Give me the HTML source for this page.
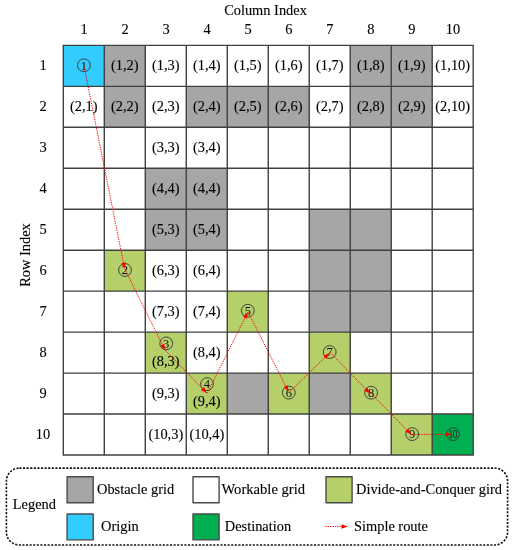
<!DOCTYPE html>
<html><head><meta charset="utf-8"><title>Grid map</title>
<style>html,body{margin:0;padding:0;background:#fff}body{width:512px;height:550px;overflow:hidden}</style></head>
<body>
<svg width="512" height="550" viewBox="0 0 512 550" style="display:block">
<rect width="512" height="550" fill="#fff"/>
<rect x="104.29" y="45.40" width="40.99" height="40.96" fill="#a6a6a6"/>
<rect x="350.23" y="45.40" width="40.99" height="40.96" fill="#a6a6a6"/>
<rect x="391.22" y="45.40" width="40.99" height="40.96" fill="#a6a6a6"/>
<rect x="104.29" y="86.36" width="40.99" height="40.96" fill="#a6a6a6"/>
<rect x="186.27" y="86.36" width="40.99" height="40.96" fill="#a6a6a6"/>
<rect x="227.26" y="86.36" width="40.99" height="40.96" fill="#a6a6a6"/>
<rect x="268.25" y="86.36" width="40.99" height="40.96" fill="#a6a6a6"/>
<rect x="350.23" y="86.36" width="40.99" height="40.96" fill="#a6a6a6"/>
<rect x="391.22" y="86.36" width="40.99" height="40.96" fill="#a6a6a6"/>
<rect x="145.28" y="168.28" width="40.99" height="40.96" fill="#a6a6a6"/>
<rect x="186.27" y="168.28" width="40.99" height="40.96" fill="#a6a6a6"/>
<rect x="145.28" y="209.24" width="40.99" height="40.96" fill="#a6a6a6"/>
<rect x="186.27" y="209.24" width="40.99" height="40.96" fill="#a6a6a6"/>
<rect x="309.24" y="209.24" width="40.99" height="40.96" fill="#a6a6a6"/>
<rect x="350.23" y="209.24" width="40.99" height="40.96" fill="#a6a6a6"/>
<rect x="309.24" y="250.20" width="40.99" height="40.96" fill="#a6a6a6"/>
<rect x="350.23" y="250.20" width="40.99" height="40.96" fill="#a6a6a6"/>
<rect x="309.24" y="291.16" width="40.99" height="40.96" fill="#a6a6a6"/>
<rect x="350.23" y="291.16" width="40.99" height="40.96" fill="#a6a6a6"/>
<rect x="227.26" y="373.08" width="40.99" height="40.96" fill="#a6a6a6"/>
<rect x="309.24" y="373.08" width="40.99" height="40.96" fill="#a6a6a6"/>
<rect x="104.29" y="250.20" width="40.99" height="40.96" fill="#b5cf6b"/>
<rect x="145.28" y="332.12" width="40.99" height="40.96" fill="#b5cf6b"/>
<rect x="186.27" y="373.08" width="40.99" height="40.96" fill="#b5cf6b"/>
<rect x="227.26" y="291.16" width="40.99" height="40.96" fill="#b5cf6b"/>
<rect x="268.25" y="373.08" width="40.99" height="40.96" fill="#b5cf6b"/>
<rect x="309.24" y="332.12" width="40.99" height="40.96" fill="#b5cf6b"/>
<rect x="350.23" y="373.08" width="40.99" height="40.96" fill="#b5cf6b"/>
<rect x="391.22" y="414.04" width="40.99" height="40.96" fill="#b5cf6b"/>
<rect x="63.30" y="45.40" width="40.99" height="40.96" fill="#33ccff"/>
<rect x="432.21" y="414.04" width="40.99" height="40.96" fill="#00b050"/>
<path d="M63.30 45.40V455.00M63.30 45.40H473.20M104.29 45.40V455.00M63.30 86.36H473.20M145.28 45.40V455.00M63.30 127.32H473.20M186.27 45.40V455.00M63.30 168.28H473.20M227.26 45.40V455.00M63.30 209.24H473.20M268.25 45.40V455.00M63.30 250.20H473.20M309.24 45.40V455.00M63.30 291.16H473.20M350.23 45.40V455.00M63.30 332.12H473.20M391.22 45.40V455.00M63.30 373.08H473.20M432.21 45.40V455.00M63.30 414.04H473.20M473.20 45.40V455.00M63.30 455.00H473.20" stroke="#404040" stroke-width="1.4" fill="none" stroke-linecap="square"/>
<g font-family="'Liberation Serif', serif" font-size="14.4" fill="#000" stroke="#000" stroke-width="0.12" text-anchor="middle">
<text x="265.5" y="14.6">Column Index</text>
<text transform="translate(30,255) rotate(-90)">Row Index</text>
<text x="84.0" y="33.7">1</text>
<text x="125.0" y="33.7">2</text>
<text x="166.0" y="33.7">3</text>
<text x="207.0" y="33.7">4</text>
<text x="248.0" y="33.7">5</text>
<text x="288.9" y="33.7">6</text>
<text x="329.9" y="33.7">7</text>
<text x="370.9" y="33.7">8</text>
<text x="411.9" y="33.7">9</text>
<text x="452.9" y="33.7">10</text>
<text x="43" y="70.2">1</text>
<text x="43" y="111.1">2</text>
<text x="43" y="152.1">3</text>
<text x="43" y="193.1">4</text>
<text x="43" y="234.0">5</text>
<text x="43" y="275.0">6</text>
<text x="43" y="315.9">7</text>
<text x="43" y="356.9">8</text>
<text x="43" y="397.9">9</text>
<text x="43" y="438.8">10</text>
<text x="83.8" y="111.0">(2,1)</text>
<text x="124.8" y="70.1">(1,2)</text>
<text x="124.8" y="111.0">(2,2)</text>
<text x="165.8" y="70.1">(1,3)</text>
<text x="165.8" y="111.0">(2,3)</text>
<text x="206.8" y="70.1">(1,4)</text>
<text x="206.8" y="111.0">(2,4)</text>
<text x="247.8" y="70.1">(1,5)</text>
<text x="247.8" y="111.0">(2,5)</text>
<text x="288.7" y="70.1">(1,6)</text>
<text x="288.7" y="111.0">(2,6)</text>
<text x="329.7" y="70.1">(1,7)</text>
<text x="329.7" y="111.0">(2,7)</text>
<text x="370.7" y="70.1">(1,8)</text>
<text x="370.7" y="111.0">(2,8)</text>
<text x="411.7" y="70.1">(1,9)</text>
<text x="411.7" y="111.0">(2,9)</text>
<text x="452.7" y="70.1">(1,10)</text>
<text x="452.7" y="111.0">(2,10)</text>
<text x="165.8" y="152.0">(3,3)</text>
<text x="206.8" y="152.0">(3,4)</text>
<text x="165.8" y="193.0">(4,4)</text>
<text x="206.8" y="193.0">(4,4)</text>
<text x="165.8" y="233.9">(5,3)</text>
<text x="206.8" y="233.9">(5,4)</text>
<text x="165.8" y="274.9">(6,3)</text>
<text x="206.8" y="274.9">(6,4)</text>
<text x="165.8" y="315.8">(7,3)</text>
<text x="206.8" y="315.8">(7,4)</text>
<text x="165.8" y="366.4">(8,3)</text>
<text x="206.8" y="356.8">(8,4)</text>
<text x="165.8" y="397.8">(9,3)</text>
<text x="206.8" y="406.3">(9,4)</text>
<text x="165.8" y="438.7">(10,3)</text>
<text x="206.8" y="438.7">(10,4)</text>
</g>
<g font-family="'Liberation Serif', serif" font-size="12.6" fill="#111" text-anchor="middle">
<circle cx="83.9" cy="65.3" r="6.4" fill="none" stroke="#333" stroke-width="0.9"/>
<text x="83.9" y="69.5">1</text>
<circle cx="125" cy="270" r="6.4" fill="none" stroke="#333" stroke-width="0.9"/>
<text x="125" y="274.2">2</text>
<circle cx="166.2" cy="343.4" r="6.4" fill="none" stroke="#333" stroke-width="0.9"/>
<text x="166.2" y="347.6">3</text>
<circle cx="207" cy="384.1" r="6.4" fill="none" stroke="#333" stroke-width="0.9"/>
<text x="207" y="388.3">4</text>
<circle cx="247.8" cy="310.7" r="6.4" fill="none" stroke="#333" stroke-width="0.9"/>
<text x="247.8" y="314.9">5</text>
<circle cx="288.8" cy="392.6" r="6.4" fill="none" stroke="#333" stroke-width="0.9"/>
<text x="288.8" y="396.8">6</text>
<circle cx="329.7" cy="352" r="6.4" fill="none" stroke="#333" stroke-width="0.9"/>
<text x="329.7" y="356.2">7</text>
<circle cx="371.1" cy="392.7" r="6.4" fill="none" stroke="#333" stroke-width="0.9"/>
<text x="371.1" y="396.9">8</text>
<circle cx="412.2" cy="434.1" r="6.4" fill="none" stroke="#333" stroke-width="0.9"/>
<text x="412.2" y="438.3">9</text>
<circle cx="453" cy="434.1" r="6.4" fill="none" stroke="#333" stroke-width="0.9"/>
<text x="453" y="438.3" font-size="12.6" textLength="8.6" lengthAdjust="spacingAndGlyphs">10</text>
</g>
<line x1="84" y1="66" x2="124.6" y2="268.6" stroke="#ff0000" stroke-width="1.0" stroke-dasharray="1.25 1.1"/>
<path d="M124.60 268.60L121.26 263.15L125.58 262.28Z" fill="#ff0000"/>
<line x1="124.8" y1="269" x2="165" y2="350" stroke="#ff0000" stroke-width="1.0" stroke-dasharray="1.25 1.1"/>
<path d="M165.00 350.00L160.36 345.60L164.30 343.65Z" fill="#ff0000"/>
<line x1="165" y1="350" x2="206.6" y2="392.9" stroke="#ff0000" stroke-width="1.0" stroke-dasharray="1.25 1.1"/>
<path d="M206.60 392.90L200.84 390.12L204.00 387.06Z" fill="#ff0000"/>
<line x1="207.2" y1="393.3" x2="247.7" y2="312.4" stroke="#ff0000" stroke-width="1.0" stroke-dasharray="1.25 1.1"/>
<path d="M247.70 312.40L246.98 318.75L243.05 316.78Z" fill="#ff0000"/>
<line x1="248.3" y1="312.4" x2="288.4" y2="391.4" stroke="#ff0000" stroke-width="1.0" stroke-dasharray="1.25 1.1"/>
<path d="M288.40 391.40L283.72 387.05L287.65 385.05Z" fill="#ff0000"/>
<line x1="289" y1="392.5" x2="329.2" y2="353.2" stroke="#ff0000" stroke-width="1.0" stroke-dasharray="1.25 1.1"/>
<path d="M329.20 353.20L326.45 358.97L323.37 355.82Z" fill="#ff0000"/>
<line x1="330" y1="352.3" x2="370" y2="393.4" stroke="#ff0000" stroke-width="1.0" stroke-dasharray="1.25 1.1"/>
<path d="M370.00 393.40L364.24 390.63L367.39 387.57Z" fill="#ff0000"/>
<line x1="371" y1="393.4" x2="411" y2="434.2" stroke="#ff0000" stroke-width="1.0" stroke-dasharray="1.25 1.1"/>
<path d="M411.00 434.20L405.23 431.46L408.37 428.38Z" fill="#ff0000"/>
<line x1="412" y1="434.4" x2="451.3" y2="434.4" stroke="#ff0000" stroke-width="1.0" stroke-dasharray="1.25 1.1"/>
<path d="M451.30 434.40L445.30 436.60L445.30 432.20Z" fill="#ff0000"/>
<rect x="6.4" y="468.1" width="501.2" height="76.9" rx="13" ry="13" fill="none" stroke="#111" stroke-width="1.6" stroke-dasharray="2.1 1.5"/>
<rect x="67.1" y="476.8" width="26.1" height="25.9" fill="#a6a6a6" stroke="#4a4a4a" stroke-width="1.4" stroke-linejoin="round"/>
<rect x="67.1" y="514" width="26.1" height="25.9" fill="#33ccff" stroke="#4a4a4a" stroke-width="1.4" stroke-linejoin="round"/>
<rect x="193" y="476.8" width="26.1" height="25.9" fill="#fff" stroke="#4a4a4a" stroke-width="1.4" stroke-linejoin="round"/>
<rect x="193" y="514" width="26.1" height="25.9" fill="#00b050" stroke="#4a4a4a" stroke-width="1.4" stroke-linejoin="round"/>
<rect x="326" y="476.8" width="26.1" height="25.9" fill="#b5cf6b" stroke="#4a4a4a" stroke-width="1.4" stroke-linejoin="round"/>
<g font-family="'Liberation Serif', serif" font-size="14.4" fill="#000" stroke="#000" stroke-width="0.12">
<text x="12.8" y="509.3">Legend</text>
<text x="97" y="494.3">Obstacle grid</text>
<text x="101" y="531.3">Origin</text>
<text x="221.5" y="494.3" font-size="14.6">Workable grid</text>
<text x="224.8" y="531.3">Destination</text>
<text x="356" y="494.3">Divide-and-Conquer gird</text>
<text x="354" y="531.3">Simple route</text>
</g>
<line x1="325.5" y1="526.5" x2="347.5" y2="526.5" stroke="#ff0000" stroke-width="1.0" stroke-dasharray="1.25 1.1"/>
<path d="M347.50 526.50L341.50 528.70L341.50 524.30Z" fill="#ff0000"/>
</svg>
</body></html>
